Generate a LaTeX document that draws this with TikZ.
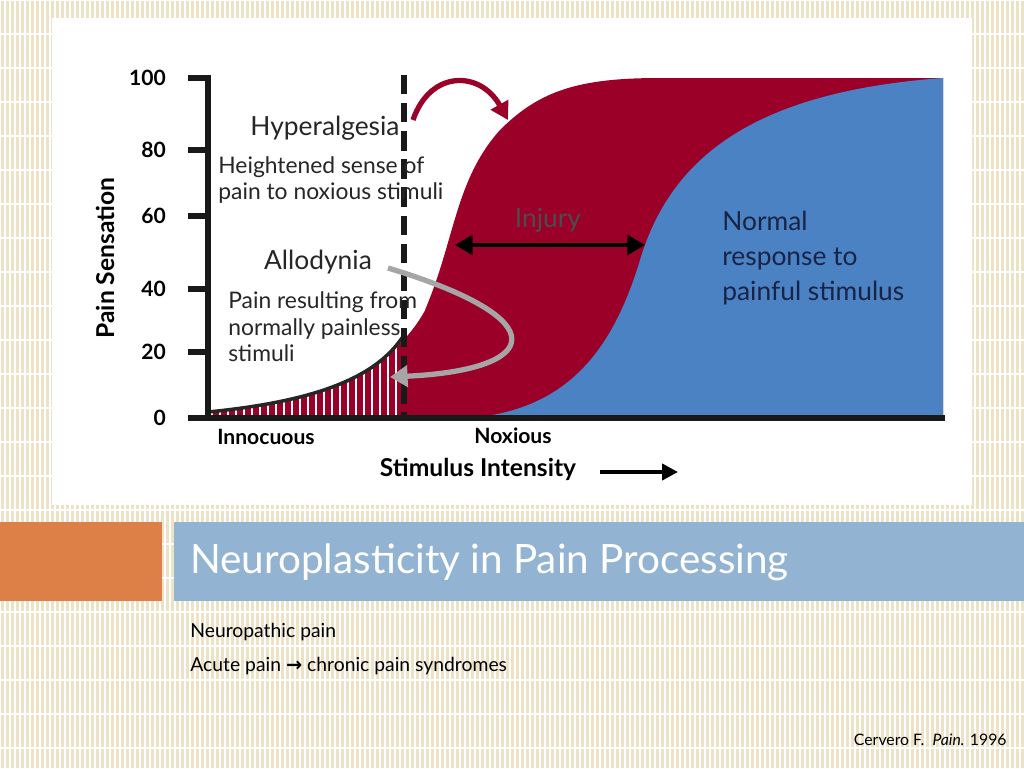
\documentclass[tikz,border=0pt]{standalone}
\usepackage{fontspec}
\setmainfont{Lato}
\usetikzlibrary{arrows.meta}
\definecolor{beige}{RGB}{238,226,198}
\definecolor{painred}{RGB}{155,0,40}
\definecolor{normblue}{RGB}{74,130,195}
\definecolor{barblue}{RGB}{146,180,210}
\definecolor{barorange}{RGB}{221,128,71}
\definecolor{navy}{RGB}{25,35,70}
\tikzset{
  lab/.style={font=\fontsize{13}{15}\selectfont, text=black!85, align=left, inner sep=0pt},
  big/.style={font=\fontsize{15}{17}\selectfont, text=black!85, inner sep=0pt},
  axis/.style={line width=3.5pt, black!90},
  slide/.style={font=\fontsize{11}{13}\selectfont, anchor=west, inner sep=0pt}
}
\begin{document}
\begin{tikzpicture}[x=0.02cm,y=-0.02cm]
    \useasboundingbox (0,0) rectangle (1024,768);
    % background
    \fill[beige] (0,0) rectangle (1024,768);
    \foreach \i in {0,5,...,1020}
      \draw[white,line width=0.6pt] (\i,0)--(\i,768);
    \foreach \j in {0,34,...,768}
      \draw[white,line width=0.8pt] (0,\j)--(1024,\j);
    \fill[white] (52,18) rectangle (972,505);
    % areas
    \fill[painred] (208,418) -- (208,412) .. controls (330,400) and (395,365) .. (425,310)
      .. controls (455,240) and (455,180) .. (500,130) .. controls (540,90) and (580,78) .. (660,78)
      -- (943,78) -- (943,418) -- cycle;
    \fill[normblue] (470,418) .. controls (560,410) and (610,360) .. (640,260)
      .. controls (670,160) and (750,92) .. (943,78) -- (943,418) -- cycle;
    \foreach \i in {212,220,...,400}
      \draw[white,line width=1.2pt] (\i,340)--(\i,417);
    \fill[white] (208,412) .. controls (330,400) and (395,365) .. (425,310) -- (425,300) -- (208,300) -- cycle;
    \draw[line width=2pt,black!85] (208,412) .. controls (330,400) and (380,372) .. (404,335);
    % axes
    \draw[axis] (208,75) -- (208,418);
    \draw[axis] (188,418) -- (945,418);
    \foreach \y/\v in {78/100,150/80,216/60,289/40,352/20,418/0}{
      \draw[axis] (188,\y) -- (208,\y);
      \node[font=\fontsize{12}{14}\selectfont\bfseries, anchor=east] (t\v) at (172,\y) {\v};}
    \draw[line width=3.5pt, dash pattern=on 11pt off 5pt, black!90] (404,75) -- (404,418);
    % labels
    \node[font=\fontsize{14}{16}\selectfont\bfseries, rotate=90] (ylab) at (105,258) {Pain Sensation};
    \node[font=\fontsize{12}{14}\selectfont\bfseries] (innoc) at (266,437) {Innocuous};
    \node[font=\fontsize{12}{14}\selectfont\bfseries] (noxious) at (513,436) {Noxious};
    \node[font=\fontsize{14}{16}\selectfont\bfseries] (xlab) at (478,469) {Stimulus Intensity};
    \coordinate (xa) at (600,472);
    \coordinate (xb) at (678,472);
    \draw[line width=2.5pt,-{Triangle[length=9pt,width=9pt]}] (xa) -- (xb);
    \node[big] (hyper) at (325,128) {Hyperalgesia};
    \node[lab, anchor=west] (hypertxt) at (218,180) {Heightened sense of\\pain to noxious stimuli};
    \node[big] (allo) at (318,262) {Allodynia};
    \node[lab, anchor=west] (allotxt) at (228,327) {Pain resulting from\\normally painless\\stimuli};
    \node[big, text=navy, align=left, anchor=west, font=\fontsize{15}{20}\selectfont] (normal) at (722,258) {Normal\\response to\\painful stimulus};
    \node[big, text=black!70] (injury) at (548,220) {Injury};
    \coordinate (inj1) at (455,245);
    \coordinate (inj2) at (645,245);
    \draw[line width=2.5pt,{Triangle[length=10pt,width=11pt]}-{Triangle[length=10pt,width=11pt]}] (inj1) -- (inj2);
    \coordinate (ra) at (413,120);
    \coordinate (rb) at (508,120);
    \draw[painred,line width=3pt,-{Triangle[length=10pt,width=11pt]}] (ra) .. controls (430,70) and (480,70) .. (rb);
    \coordinate (ga) at (388,268);
    \coordinate (gb) at (390,377);
    \draw[gray!70,line width=3pt,-{Triangle[length=10pt,width=12pt]}] (ga) .. controls (560,320) and (540,370) .. (gb);
    % slide
    \fill[barorange] (0,522) rectangle (162,601);
    \fill[barblue] (174,522) rectangle (1024,601);
    \node[font=\fontsize{23}{26}\selectfont, text=white, anchor=west, inner sep=0pt] (title) at (190,562) {Neuroplasticity in Pain Processing};
    \node[slide] (l1) at (190,632) {Neuropathic pain};
    \node[slide] (l2) at (190,666) {Acute pain {\fontspec{DejaVu Sans}\bfseries →} chronic pain syndromes};
    \node[font=\fontsize{9}{11}\selectfont, anchor=east, inner sep=0pt] (cite) at (1007,740) {Cervero F.\ \ \textit{Pain.} 1996};
\end{tikzpicture}
\end{document}
